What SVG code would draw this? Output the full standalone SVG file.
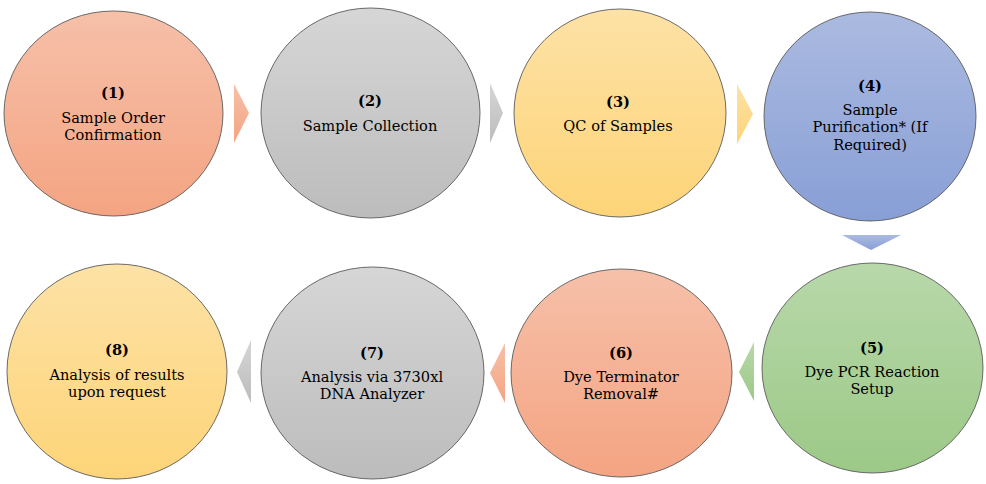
<svg xmlns="http://www.w3.org/2000/svg" width="986" height="484" viewBox="0 0 986 484">
<defs>
<linearGradient id="gSalmon" x1="0" y1="0" x2="0" y2="1"><stop offset="0" stop-color="#f6c0a9"/><stop offset="1" stop-color="#f4a482"/></linearGradient>
<linearGradient id="gGray" x1="0" y1="0" x2="0" y2="1"><stop offset="0" stop-color="#d6d6d6"/><stop offset="1" stop-color="#bcbcbc"/></linearGradient>
<linearGradient id="gYellow" x1="0" y1="0" x2="0" y2="1"><stop offset="0" stop-color="#fde2a6"/><stop offset="1" stop-color="#fdd478"/></linearGradient>
<linearGradient id="gBlue" x1="0" y1="0" x2="0" y2="1"><stop offset="0" stop-color="#abbae0"/><stop offset="1" stop-color="#889fd6"/></linearGradient>
<linearGradient id="gGreen" x1="0" y1="0" x2="0" y2="1"><stop offset="0" stop-color="#b8d8aa"/><stop offset="1" stop-color="#9cc987"/></linearGradient>
</defs>
<style>
.c{stroke:#5a5a5a;stroke-width:0.9}
.t{font-family:"DejaVu Serif","Liberation Serif",serif;font-size:14.6px;fill:#000;text-anchor:middle}
.n{font-weight:bold}
</style>
<rect width="986" height="484" fill="#ffffff"/>
<g id="connectors">
<polygon points="234,84 249,113 234,143" fill="url(#gSalmon)"/>
<polygon points="490,83 503,113 490,143" fill="url(#gGray)"/>
<polygon points="737,84 753,114 737,144" fill="url(#gYellow)"/>
<polygon points="842,235 901,235 871,250" fill="url(#gBlue)"/>
<polygon points="754,342 739,372 754,401" fill="url(#gGreen)"/>
<polygon points="505,343 490,373 505,403" fill="url(#gSalmon)"/>
<polygon points="251,340 237,372 251,403" fill="url(#gGray)"/>
</g>
<g id="node1">
<ellipse class="c" cx="113.5" cy="113.5" rx="109.5" ry="102.5" fill="url(#gSalmon)"/>
<text class="t n" x="113" y="98">(1)</text>
<text class="t" x="113" y="123">Sample Order</text>
<text class="t" x="113" y="140">Confirmation</text>
</g>
<g id="node2">
<ellipse class="c" cx="370.5" cy="113" rx="109.5" ry="105" fill="url(#gGray)"/>
<text class="t n" x="370" y="106">(2)</text>
<text class="t" x="370" y="131">Sample Collection</text>
</g>
<g id="node3">
<ellipse class="c" cx="620" cy="113" rx="106" ry="104" fill="url(#gYellow)"/>
<text class="t n" x="618" y="107">(3)</text>
<text class="t" x="618" y="131">QC of Samples</text>
</g>
<g id="node4">
<ellipse class="c" cx="870" cy="116.5" rx="106" ry="104.5" fill="url(#gBlue)"/>
<text class="t n" x="870" y="91">(4)</text>
<text class="t" x="870" y="115">Sample</text>
<text class="t" x="870" y="132">Purification* (If</text>
<text class="t" x="870" y="150">Required)</text>
</g>
<g id="node5">
<ellipse class="c" cx="872.5" cy="368" rx="110.5" ry="105" fill="url(#gGreen)"/>
<text class="t n" x="872" y="353">(5)</text>
<text class="t" x="872" y="377">Dye PCR Reaction</text>
<text class="t" x="872" y="394">Setup</text>
</g>
<g id="node6">
<ellipse class="c" cx="621.5" cy="373" rx="110.5" ry="104" fill="url(#gSalmon)"/>
<text class="t n" x="621" y="358">(6)</text>
<text class="t" x="621" y="382">Dye Terminator</text>
<text class="t" x="621" y="399">Removal#</text>
</g>
<g id="node7">
<ellipse class="c" cx="372.5" cy="373" rx="111.5" ry="106" fill="url(#gGray)"/>
<text class="t n" x="372" y="358">(7)</text>
<text class="t" x="372" y="382">Analysis via 3730xl</text>
<text class="t" x="372" y="399">DNA Analyzer</text>
</g>
<g id="node8">
<ellipse class="c" cx="117" cy="371.5" rx="110" ry="107.5" fill="url(#gYellow)"/>
<text class="t n" x="117" y="355">(8)</text>
<text class="t" x="117" y="380">Analysis of results</text>
<text class="t" x="117" y="397">upon request</text>
</g>
</svg>
